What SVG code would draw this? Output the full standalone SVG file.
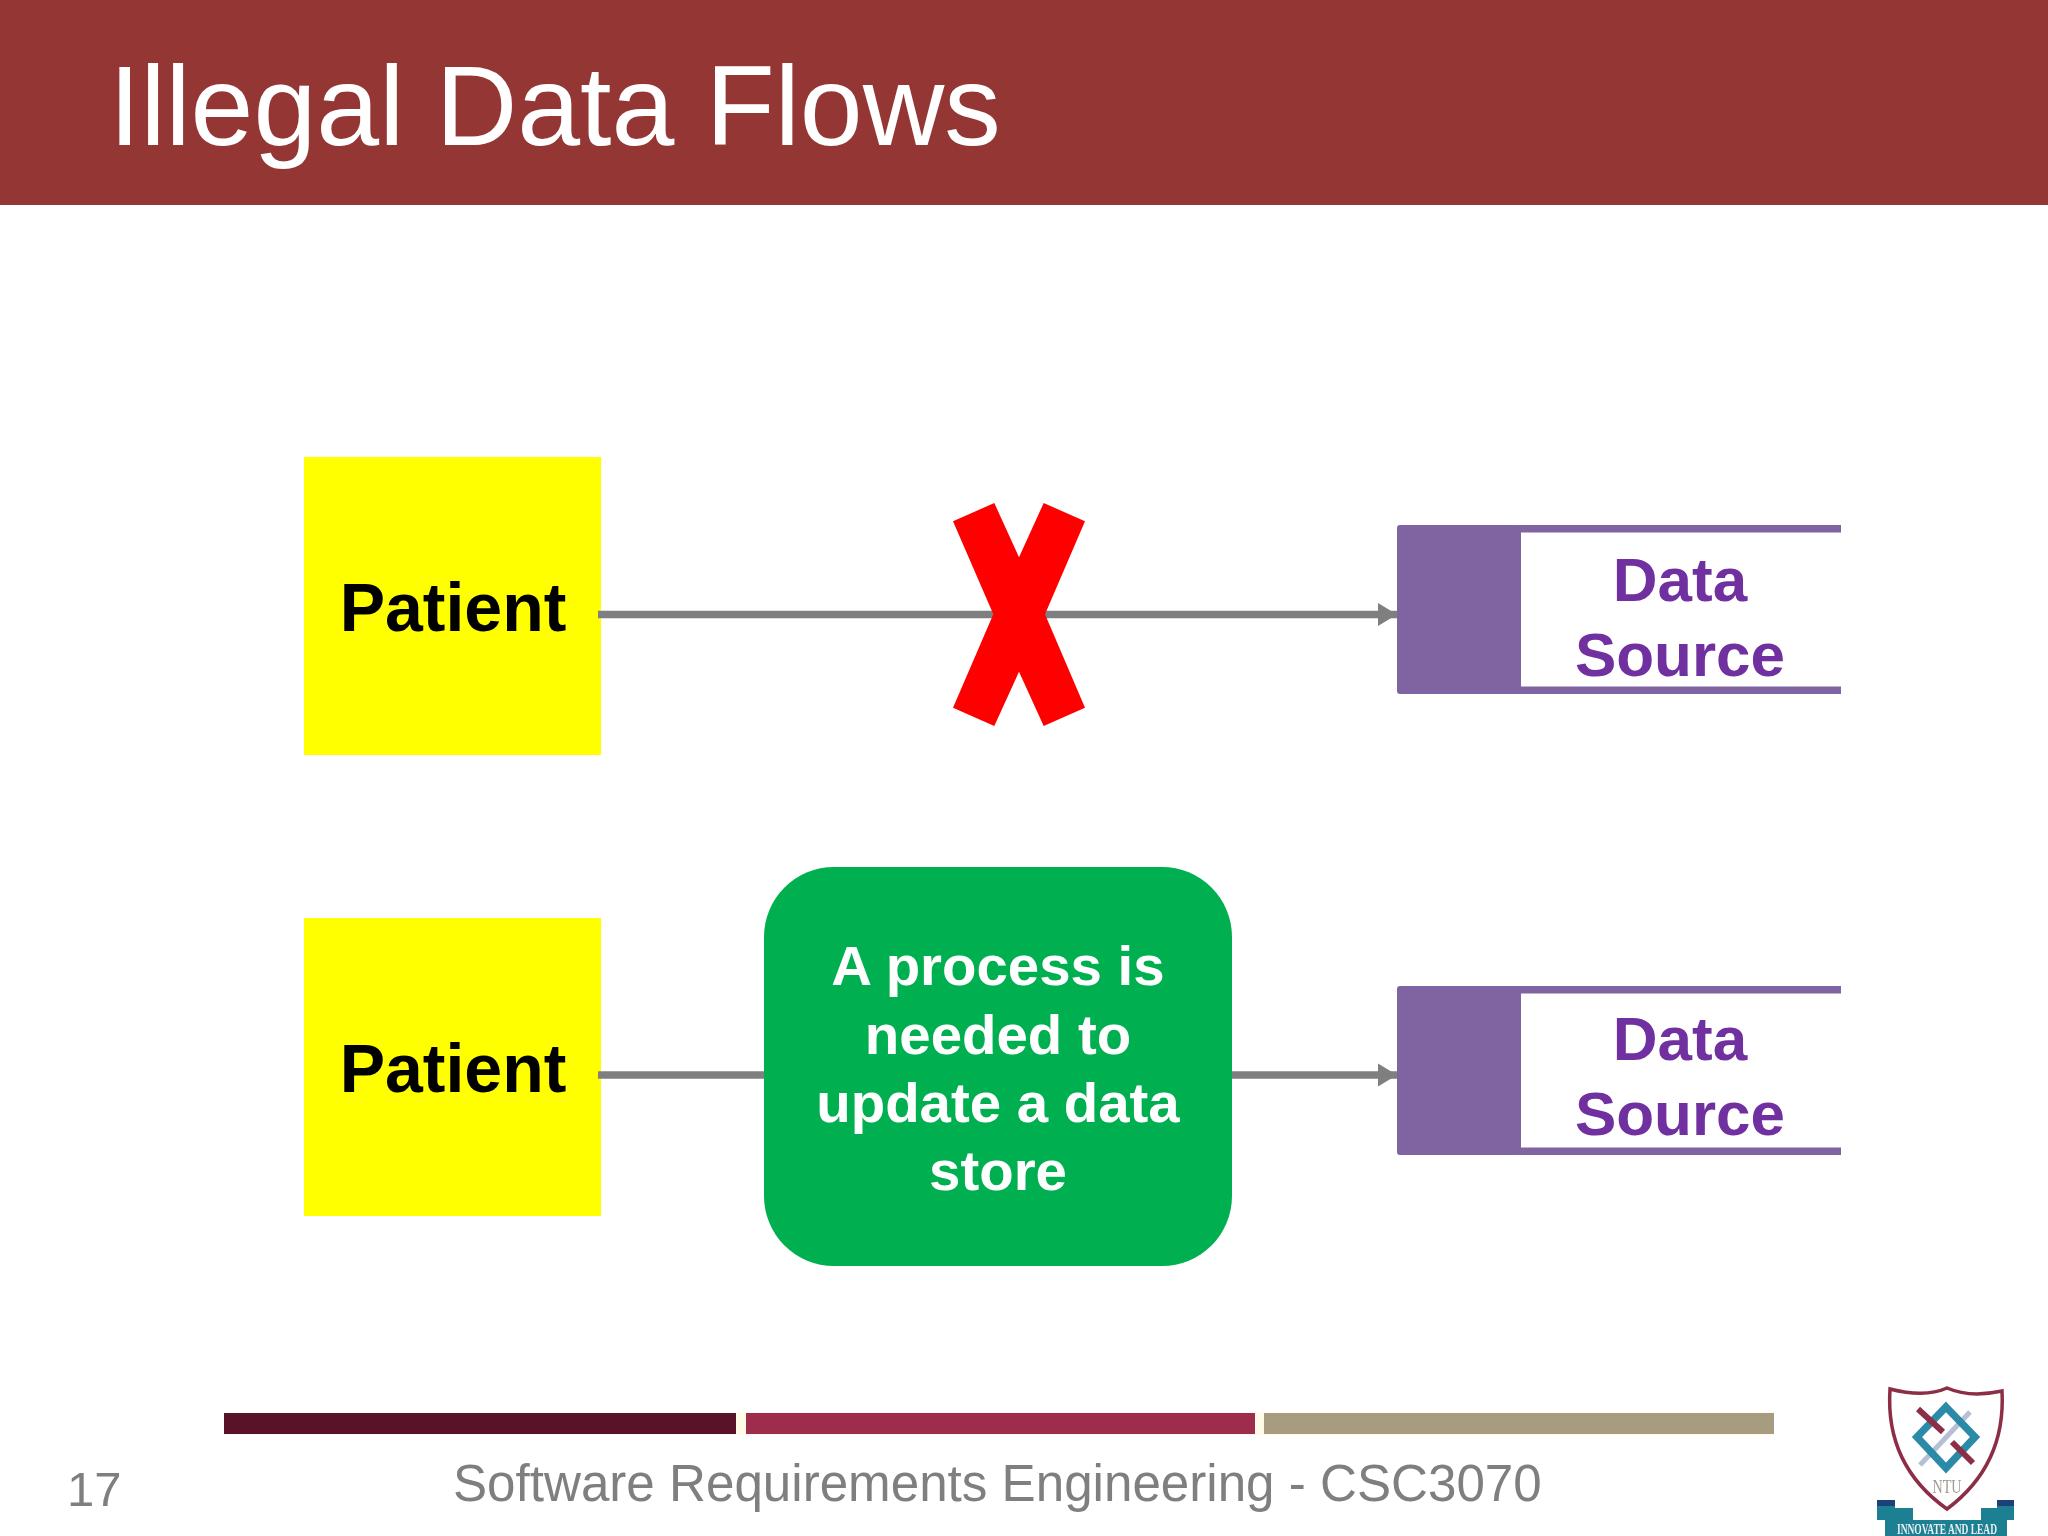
<svg xmlns="http://www.w3.org/2000/svg" width="2048" height="1536" viewBox="0 0 2048 1536">
<style>
text{font-family:"Liberation Sans",Arial,sans-serif}
.ext{fill:#ffff00}
.extt{font-size:68px;font-weight:700;fill:#000;text-anchor:middle}
.st{fill:#8064a2}
.stt{font-size:62px;font-weight:700;fill:#7030a0;text-anchor:middle}
.pt{font-size:56.4px;font-weight:700;fill:#fff;text-anchor:middle}
.flow{stroke:#7f7f7f;stroke-width:7.5;fill:none}
.serif{font-family:"Liberation Serif",serif}
</style>
<defs>
<marker id="arrow" markerUnits="userSpaceOnUse" markerWidth="20" markerHeight="24" refX="19" refY="12" orient="auto">
<path d="M0 0.5L19 12L0 23.5Z" fill="#7f7f7f"/>
</marker>
<filter id="soft" x="-5%" y="-5%" width="110%" height="110%"><feGaussianBlur stdDeviation="0.7"/></filter>
</defs>
<rect width="2048" height="1536" fill="#fff"/>
<g id="header">
<rect width="2048" height="205" fill="#943634"/>
<text x="109" y="145" font-size="113" fill="#fff">Illegal Data Flows</text>
</g>
<g id="patient-1"><rect class="ext" x="304" y="457" width="297" height="298"/><text class="extt" x="453" y="631">Patient</text></g>
<g id="patient-2"><rect class="ext" x="304" y="918" width="297" height="298"/><text class="extt" x="453" y="1092">Patient</text></g>
<g id="store-1">
<rect class="st" x="1397" y="525" width="124" height="169" rx="3"/>
<rect class="st" x="1519" y="525" width="322" height="7.5"/>
<rect class="st" x="1519" y="686.5" width="322" height="7.5"/>
<text class="stt" x="1680" y="601">Data</text><text class="stt" x="1680" y="676">Source</text>
</g>
<g id="store-2">
<rect class="st" x="1397" y="986" width="124" height="169" rx="3"/>
<rect class="st" x="1519" y="986" width="322" height="7.5"/>
<rect class="st" x="1519" y="1147.5" width="322" height="7.5"/>
<text class="stt" x="1680" y="1060">Data</text><text class="stt" x="1680" y="1135">Source</text>
</g>
<g id="connectors">
<line class="flow" x1="598" y1="614.5" x2="1397" y2="614.5" marker-end="url(#arrow)"/>
<line class="flow" x1="598" y1="1075" x2="764" y2="1075"/>
<line class="flow" x1="1232" y1="1075" x2="1397" y2="1075" marker-end="url(#arrow)"/>
</g>
<g id="process">
<rect x="764" y="867" width="468" height="399" rx="70" fill="#00b050"/>
<text class="pt" x="998" y="985">A process is</text>
<text class="pt" x="998" y="1054">needed to</text>
<text class="pt" x="998" y="1122">update a data</text>
<text class="pt" x="998" y="1190">store</text>
</g>
<g id="cross"><polygon fill="#ff0000" points="994.3,503 1019,557.3 1043.7,503 1085,521.3 1045,614.3 1085,707.7 1043.7,726 1019,671.7 994.3,726 953,707.7 993.3,614.3 953,521.3"/></g>
<g id="footer">
<rect x="224" y="1412" width="1550" height="23" fill="#fffbe6"/>
<rect x="224" y="1413" width="512" height="21" fill="#591329"/>
<rect x="746" y="1413" width="509" height="21" fill="#9e2d4d"/>
<rect x="1264" y="1413" width="510" height="21" fill="#a89c80"/>
<text x="453" y="1501" font-size="51.15" fill="#7f7f7f">Software Requirements Engineering - CSC3070</text>
<text x="67" y="1506" font-size="49" fill="#7f7f7f">17</text>
</g>
<g id="logo" filter="url(#soft)">
<path d="M1890 1389Q1925 1398 1947 1388Q1970 1398 2002 1391Q2006 1465 1947 1509Q1885 1465 1890 1389Z" fill="#fff" stroke="#8c2f45" stroke-width="3.5"/>
<path d="M1920 1465L1970 1412" stroke="#b4c0d4" stroke-width="5" fill="none"/>
<path d="M1946 1407L1975 1437L1946 1468L1917 1437Z" fill="none" stroke="#2a8aa8" stroke-width="7.5"/>
<path d="M1918 1409L1943 1432M1952 1442L1973 1463" stroke="#8c2f45" stroke-width="6" fill="none"/>
<text class="serif" x="1947" y="1493" font-size="18" text-anchor="middle" fill="#a09a90" textLength="29" lengthAdjust="spacingAndGlyphs">NTU</text>
<path d="M1877 1500H1895V1508H1913V1520H1981V1508H1997V1500H2014V1520H2007V1536H1885V1520H1877Z" fill="#1f7f92"/>
<path d="M1877 1500H1895V1506H1877ZM1997 1500H2014V1506H1997Z" fill="#1c3f7a"/>
<text class="serif" x="1947" y="1534" font-size="14" font-weight="700" text-anchor="middle" fill="#e8f2f4" textLength="100" lengthAdjust="spacingAndGlyphs">INNOVATE AND LEAD</text>
</g>
</svg>
